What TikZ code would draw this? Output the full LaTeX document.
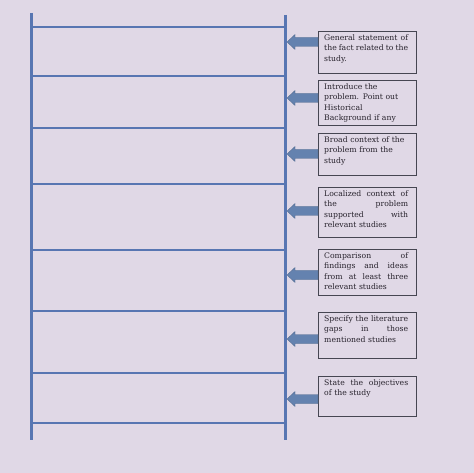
\documentclass[tikz,border=0pt]{standalone}
\usepackage{fontspec}
\setmainfont{DejaVu Serif}
\definecolor{bgc}{RGB}{224,216,230}
\definecolor{linec}{RGB}{88,118,178}
\definecolor{arrc}{RGB}{100,130,175}
\definecolor{boxc}{RGB}{70,70,82}
\definecolor{txtc}{RGB}{40,35,45}
\tikzset{
  rail/.style={draw=linec, line width=3pt},
  rung/.style={draw=linec, line width=2.7pt},
  infobox/.style={draw=boxc, line width=1.1pt, fill=bgc, minimum width=98pt, inner sep=0pt, anchor=north west},
  txt/.style={anchor=north west, inner sep=0pt, text width=84pt, align=left, text=txtc,
              font=\fontsize{7.7}{10.6}\selectfont},
  blockarrow/.style={fill=arrc, draw=arrc!80!black, line width=0.3pt}
}
\begin{document}
\begin{tikzpicture}[x=1pt,y=-1pt]
\useasboundingbox (0,0) rectangle (474,473);
\fill[bgc] (0,0) rectangle (474,473);
% rails
\coordinate (lt) at (31,13);
\coordinate (lb) at (31,440);
\coordinate (rt) at (285,15);
\coordinate (rb) at (285,440);
\draw[rail] (lt) -- (lb);
\draw[rail] (rt) -- (rb);
% rungs
\foreach \y [count=\i] in {27,76,128,184,250,311,373,423}{
  \coordinate (rl\i) at (31,\y);
  \coordinate (rr\i) at (285,\y);
  \draw[rung] (rl\i) -- (rr\i);
}
% boxes
\node[infobox, minimum height=42pt] (b1) at (318,31) {};
\node[infobox, minimum height=45pt] (b2) at (318,80) {};
\node[infobox, minimum height=42pt] (b3) at (318,133) {};
\node[infobox, minimum height=50pt] (b4) at (318,187) {};
\node[infobox, minimum height=46pt] (b5) at (318,249) {};
\node[infobox, minimum height=46pt] (b6) at (318,312) {};
\node[infobox, minimum height=40pt] (b7) at (318,376) {};
% texts
\node[txt] (t1) at ([shift={(6,3)}]b1.north west) {General\hfill statement\hfill of\\the\hfill fact\hfill related\hfill to\hfill the\\study.};
\node[txt] (t2) at ([shift={(6,3)}]b2.north west) {Introduce the\\problem. Point out\\Historical\\Background if any};
\node[txt] (t3) at ([shift={(6,3)}]b3.north west) {Broad context of the\\problem from the\\study};
\node[txt] (t4) at ([shift={(6,3)}]b4.north west) {Localized\hfill context\hfill of\\the\hfill problem\\supported\hfill with\\relevant studies};
\node[txt] (t5) at ([shift={(6,3)}]b5.north west) {Comparison\hfill of\\findings\hfill and\hfill ideas\\from\hfill at\hfill least\hfill three\\relevant studies};
\node[txt] (t6) at ([shift={(6,3)}]b6.north west) {Specify\hfill the\hfill literature\\gaps\hfill in\hfill those\\mentioned studies};
\node[txt] (t7) at ([shift={(6,3)}]b7.north west) {State\hfill the\hfill objectives\\of the study};
% arrows
\foreach \y [count=\i] in {42,98,154,211,275,339,399}{
  \coordinate (a\i) at (287,\y);
  \path[blockarrow] (a\i) -- ++(8,-7.5) -- ++(0,3) -- ++(23,0) -- ++(0,9) -- ++(-23,0) -- ++(0,3) -- cycle;
}
\end{tikzpicture}
\end{document}
